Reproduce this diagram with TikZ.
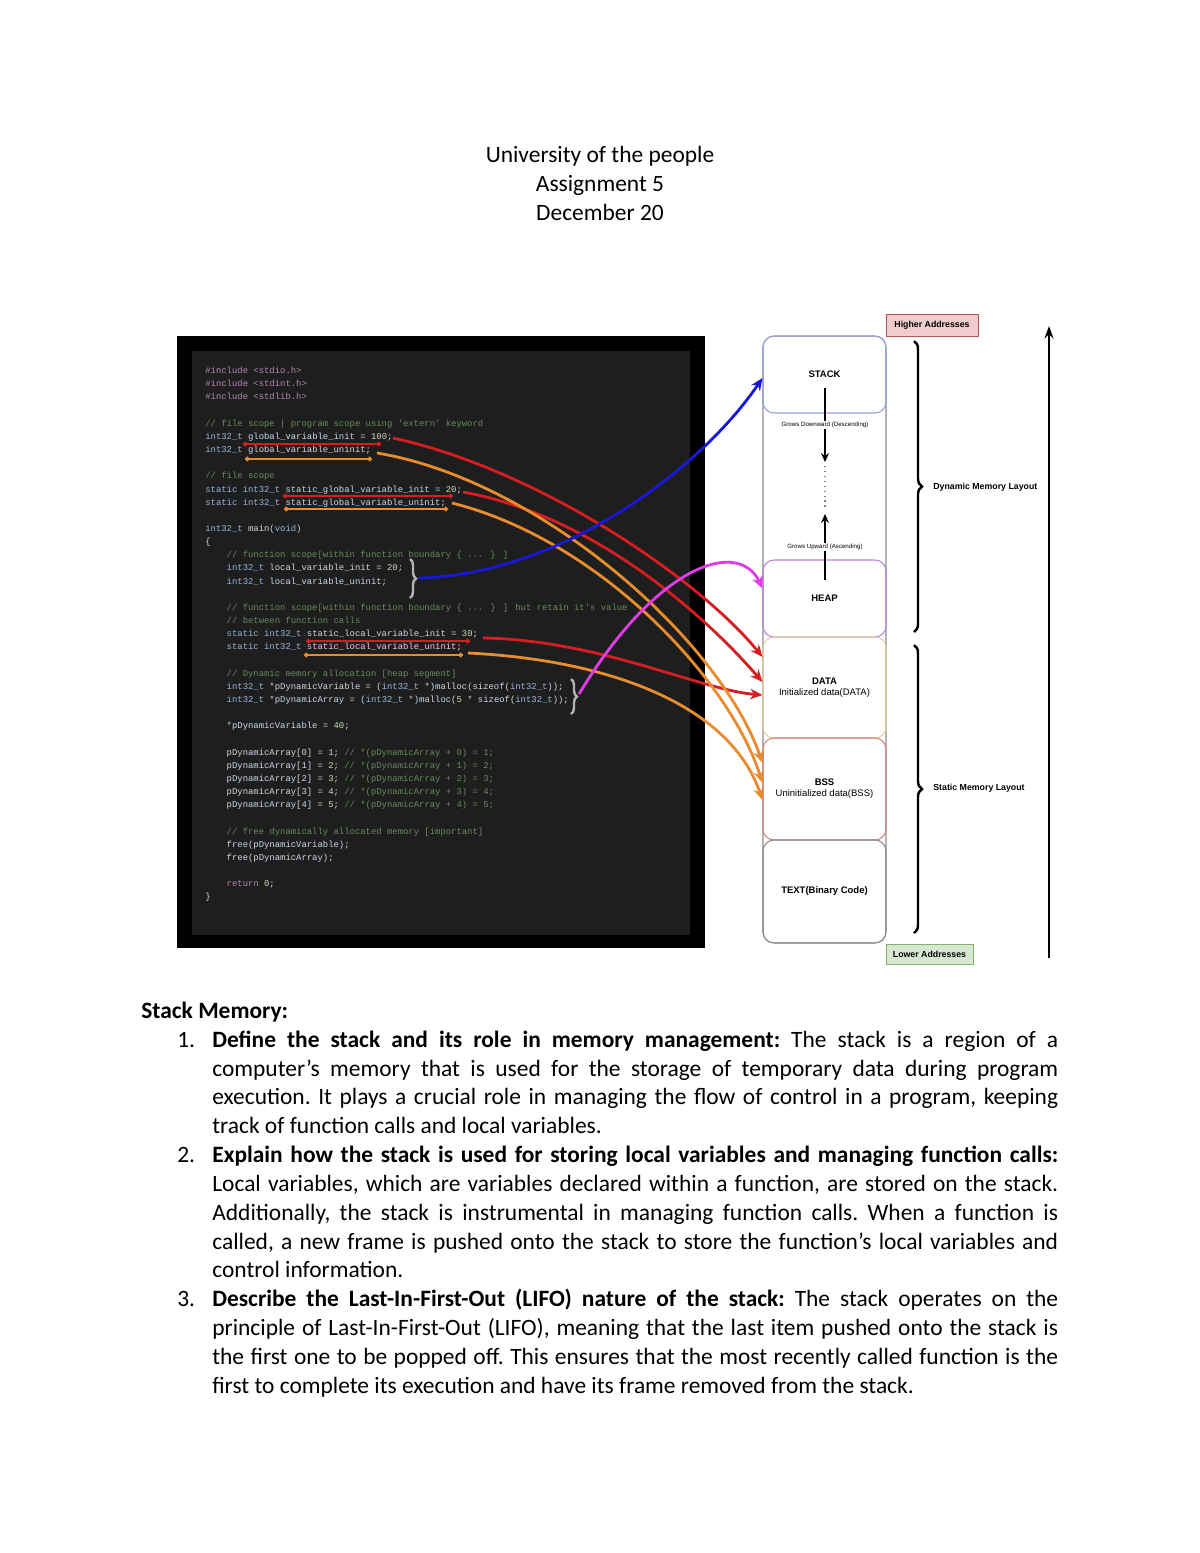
\documentclass[tikz,border=0pt]{standalone}
\usepackage{fontspec}
\setmainfont{Carlito}
\newfontfamily\codefont{Liberation Mono}
\newfontfamily\diafont{Liberation Sans}
\usetikzlibrary{arrows.meta,decorations.pathreplacing}

\definecolor{codebg}{RGB}{30,30,30}
\definecolor{codefg}{RGB}{205,216,228}
\definecolor{kwc}{RGB}{150,182,220}
\definecolor{cmtc}{RGB}{104,138,94}
\definecolor{incc}{RGB}{178,136,178}
\definecolor{numc}{RGB}{205,220,185}
\definecolor{varred}{RGB}{212,30,34}
\definecolor{varorange}{RGB}{232,140,48}
\definecolor{stackblue}{RGB}{24,24,214}
\definecolor{heappink}{RGB}{224,60,232}
\definecolor{stackedge}{RGB}{150,160,215}
\definecolor{heapedge}{RGB}{185,130,225}
\definecolor{dataedge}{RGB}{225,210,160}
\definecolor{bssedge}{RGB}{210,130,130}
\definecolor{textedge}{RGB}{140,140,140}
\definecolor{hifill}{RGB}{240,204,204}
\definecolor{hidraw}{RGB}{184,84,80}
\definecolor{lofill}{RGB}{214,232,210}
\definecolor{lodraw}{RGB}{130,179,102}

\newcommand{\ckw}[1]{\textcolor{kwc}{#1}}
\newcommand{\ccmt}[1]{\textcolor{cmtc}{#1}}
\newcommand{\cinc}[1]{\textcolor{incc}{#1}}
\newcommand{\cnum}[1]{\textcolor{numc}{#1}}
\newcommand{\cind}{\hphantom{0000}}

\tikzset{
  codetxt/.style={anchor=north west, inner sep=0pt, align=left, text=codefg,
    font=\codefont\fontsize{5.07}{7.49}\selectfont},
  uline/.style={line width=1pt, {Circle[length=2.6pt]}-{Circle[length=2.6pt]}},
  link/.style={line width=1.6pt, -{Stealth[length=7pt,width=6pt]}},
  codebrace/.style={draw=gray!60, line width=1.4pt,
    decorate, decoration={brace, amplitude=0.12cm}},
  membrace/.style={draw=black, line width=1.4pt,
    decorate, decoration={brace, amplitude=0.16cm}},
  membox/.style={draw, rounded corners=0.22cm, line width=0.6pt,
    minimum width=2.46cm, align=center, inner sep=0pt,
    font=\diafont\bfseries\fontsize{5.4}{7.4}\selectfont},
  growlbl/.style={fill=white, inner sep=0.5pt,
    font=\diafont\fontsize{3.5}{4}\selectfont},
  growarrow/.style={line width=1.5pt, -{Stealth[length=5pt,width=4.5pt]}},
  addrlbl/.style={draw, line width=0.5pt, inner sep=0pt,
    font=\diafont\bfseries\fontsize{5}{6}\selectfont},
  sidelbl/.style={anchor=west, inner sep=0pt,
    font=\diafont\bfseries\fontsize{5}{6}\selectfont}
}

\begin{document}
\begin{tikzpicture}[x=0.02cm, y=-0.02cm]
  \useasboundingbox[fill=white] (0,0) rectangle (1200,1553);

  % title
  \node[anchor=north, inner sep=0pt, align=center,
    font=\fontsize{13.34}{16.4}\selectfont] (title) at (600,142)
    {\strut University of the people\\Assignment 5\\December 20};

  % code screenshot
  \fill[black] (177,336) rectangle (705,948);
  \fill[codebg] (192,351) rectangle (690,935);
  \node[codetxt] (code) at (205,364) {\strut\cinc{\#include <stdio.h>}\\
\cinc{\#include <stdint.h>}\\
\cinc{\#include <stdlib.h>}\\
\mbox{}\\
\ccmt{// file scope | program scope using 'extern' keyword}\\
\ckw{int32\_t} global\_variable\_init = \cnum{100};\\
\ckw{int32\_t} global\_variable\_uninit;\\
\mbox{}\\
\ccmt{// file scope}\\
\ckw{static int32\_t} static\_global\_variable\_init = \cnum{20};\\
\ckw{static int32\_t} static\_global\_variable\_uninit;\\
\mbox{}\\
\ckw{int32\_t} main(\ckw{void})\\
\{\\
\cind\ccmt{// function scope[within function boundary \{ ... \} ]}\\
\cind\ckw{int32\_t} local\_variable\_init = \cnum{20};\\
\cind\ckw{int32\_t} local\_variable\_uninit;\\
\mbox{}\\
\cind\ccmt{// function scope[within function boundary \{ ... \} ] but retain it's value}\\
\cind\ccmt{// between function calls}\\
\cind\ckw{static int32\_t} static\_local\_variable\_init = \cnum{30};\\
\cind\ckw{static int32\_t} static\_local\_variable\_uninit;\\
\mbox{}\\
\cind\ccmt{// Dynamic memory allocation [heap segment]}\\
\cind\ckw{int32\_t} *pDynamicVariable = (\ckw{int32\_t} *)malloc(sizeof(\ckw{int32\_t}));\\
\cind\ckw{int32\_t} *pDynamicArray = (\ckw{int32\_t} *)malloc(\cnum{5} * sizeof(\ckw{int32\_t}));\\
\mbox{}\\
\cind{}*pDynamicVariable = \cnum{40};\\
\mbox{}\\
\cind pDynamicArray[0] = \cnum{1}; \ccmt{// *(pDynamicArray + 0) = 1;}\\
\cind pDynamicArray[1] = \cnum{2}; \ccmt{// *(pDynamicArray + 1) = 2;}\\
\cind pDynamicArray[2] = \cnum{3}; \ccmt{// *(pDynamicArray + 2) = 3;}\\
\cind pDynamicArray[3] = \cnum{4}; \ccmt{// *(pDynamicArray + 3) = 4;}\\
\cind pDynamicArray[4] = \cnum{5}; \ccmt{// *(pDynamicArray + 4) = 5;}\\
\mbox{}\\
\cind\ccmt{// free dynamically allocated memory [important]}\\
\cind free(pDynamicVariable);\\
\cind free(pDynamicArray);\\
\mbox{}\\
\cind\cinc{return} \cnum{0};\\
\}};

  % marked variables
  \draw[uline, varred] (243,444) -- (381,444);
  \draw[uline, varorange] (245,459) -- (372,459);
  \draw[uline, varred] (283,496) -- (453,496);
  \draw[uline, varorange] (284,509) -- (448,509);
  \draw[uline, varred] (306,641) -- (470,641);
  \draw[uline, varorange] (304,655) -- (463,655);
  \draw[codebrace] (410,559) -- (410,598);
  \draw[codebrace] (571,679) -- (571,714);

  \coordinate (gInit) at (393,438);
  \coordinate (gUninit) at (377,453);
  \coordinate (sgInit) at (463,492);
  \coordinate (sgUninit) at (452,503);
  \coordinate (slInit) at (483,638);
  \coordinate (slUninit) at (468,653);
  \coordinate (locTip) at (418,578);
  \coordinate (dynTip) at (579,694);

  % memory layout
  \node[draw=textedge, rounded corners=0.22cm, line width=0.6pt,
    minimum width=2.46cm, minimum height=12.14cm] (mem) at (824.5,639.5) {};
  \node[membox, draw=stackedge, minimum height=1.54cm] (stack) at (824.5,374.5) {STACK};
  \node[membox, draw=heapedge, minimum height=1.54cm] (heap) at (824.5,598.5) {HEAP};
  \node[membox, draw=dataedge, minimum height=2.02cm] (data) at (824.5,687.5)
    {DATA\\[-1pt]\mdseries Initialized data(DATA)};
  \node[membox, draw=bssedge, minimum height=2.04cm] (bss) at (824.5,789)
    {BSS\\[-1pt]\mdseries Uninitialized data(BSS)};
  \node[membox, draw=textedge, minimum height=2.06cm] (txt) at (824.5,891.5)
    {TEXT(Binary Code)};

  \coordinate (dTop) at (825,388);
  \coordinate (dEnd) at (825,462);
  \coordinate (uBot) at (825,580);
  \coordinate (uEnd) at (825,514);
  \draw[growarrow] (dTop) -- (dEnd);
  \draw[growarrow] (uBot) -- (uEnd);
  \draw[gray, dotted, line width=0.8pt] (dEnd) ++(0,4) -- (825,508);
  \node[growlbl] (down) at (825,425) {Grows Downward (Descending)};
  \node[growlbl] (up) at (825,547) {Grows Upward (Ascending)};

  \node[addrlbl, fill=hifill, draw=hidraw, minimum width=1.84cm,
    minimum height=0.44cm] (hi) at (932,325) {Higher Addresses};
  \node[addrlbl, fill=lofill, draw=lodraw, minimum width=1.74cm,
    minimum height=0.40cm] (lo) at (929.5,954) {Lower Addresses};

  \draw[membrace] (914,341) -- (914,632);
  \draw[membrace] (914,645) -- (914,933);
  \node[sidelbl] (dyn) at (933,487) {Dynamic Memory Layout};
  \node[sidelbl] (sta) at (933,788) {Static Memory Layout};

  \coordinate (aBot) at (1049,958);
  \coordinate (aTop) at (1049,326);
  \draw[line width=1.4pt, -{Stealth[length=7pt,width=5pt]}] (aBot) -- (aTop);

  % variables to segments
  \draw[link, varred] (gInit) .. controls (540,470) and (700,580) .. ([yshift=0.61cm]data.west);
  \draw[link, varred] (sgInit) .. controls (590,515) and (700,610) .. ([yshift=0.11cm]data.west);
  \draw[link, varred] (slInit) .. controls (600,640) and (700,690) .. ([yshift=-0.15cm]data.west);
  \draw[link, varorange] (gUninit) .. controls (540,480) and (720,640) .. ([yshift=0.52cm]bss.west);
  \draw[link, varorange] (sgUninit) .. controls (600,540) and (730,680) .. ([yshift=0.12cm]bss.west);
  \draw[link, varorange] (slUninit) .. controls (610,660) and (730,705) .. ([yshift=-0.22cm]bss.west);
  \draw[link, stackblue] (locTip) .. controls (560,575) and (700,470) .. ([yshift=-0.07cm]stack.west);
  \draw[link, heappink] (dynTip) .. controls (660,560) and (740,540) .. ([yshift=0.2cm]heap.west);

  % answer text
  \node[anchor=north west, inner sep=0pt, text width=18.34cm, align=justify,
    font=\fontsize{13.34}{16.4}\selectfont] (body) at (141,998)
  {\frenchspacing\strut\textbf{Stack Memory:}\par
   \hyphenpenalty=10000
   \hangindent=1.42cm\hangafter=1\noindent\makebox[1.42cm][l]{\hspace{0.72cm}1.}%
   \textbf{Define the stack and its role in memory management:} The stack is a region of a\linebreak
   computer’s memory that is used for the storage of temporary data during program\linebreak
   execution. It plays a crucial role in managing the flow of control in a program, keeping\linebreak
   track of function calls and local variables.\par
   \hangindent=1.42cm\hangafter=1\noindent\makebox[1.42cm][l]{\hspace{0.72cm}2.}%
   \textbf{Explain how the stack is used for storing local variables and managing function calls:}\linebreak
   Local variables, which are variables declared within a function, are stored on the stack.\linebreak
   Additionally, the stack is instrumental in managing function calls. When a function is\linebreak
   called, a new frame is pushed onto the stack to store the function’s local variables and\linebreak
   control information.\par
   \hangindent=1.42cm\hangafter=1\noindent\makebox[1.42cm][l]{\hspace{0.72cm}3.}%
   \textbf{Describe the Last-In-First-Out (LIFO) nature of the stack:} The stack operates on the\linebreak
   principle of Last-In-First-Out (LIFO), meaning that the last item pushed onto the stack is\linebreak
   the first one to be popped off. This ensures that the most recently called function is the\linebreak
   first to complete its execution and have its frame removed from the stack.\par};
\end{tikzpicture}
\end{document}
